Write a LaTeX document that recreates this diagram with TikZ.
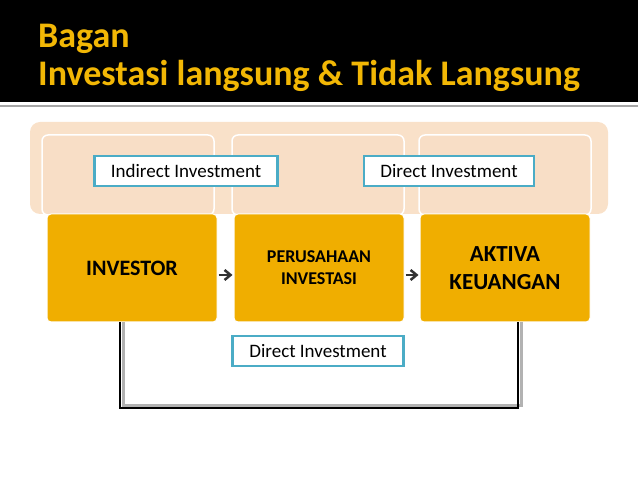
\documentclass[tikz,border=0pt]{standalone}
\usepackage{fontspec}
\setmainfont{Carlito}
\usetikzlibrary{arrows.meta}
\definecolor{ttl}{HTML}{F2B705}
\definecolor{peach}{HTML}{F9E1C9}
\definecolor{lpeach}{HTML}{F8DEC6}
\definecolor{orng}{HTML}{F0AE00}
\definecolor{teal}{HTML}{4BACC6}
\tikzset{
 orangebox/.style={draw=white,line width=1pt,fill=orng,rounded corners=4pt,minimum width=170pt,minimum height=108pt,align=center},
 topbox/.style={draw=white,line width=1.5pt,fill=lpeach,rounded corners=6pt,minimum width=172pt,minimum height=80pt},
 lbl/.style={draw=teal,line width=2.5pt,fill=white,inner sep=3pt,minimum height=30pt,font=\fontsize{19}{22}\selectfont},
 link/.style={line width=2.5pt,draw=black},
 chev/.style={line width=2.5pt,-{Straight Barb[length=6pt,width=10pt]},black!80},
}
\begin{document}
\begin{tikzpicture}[x=1pt,y=-1pt]
\useasboundingbox (0,0) rectangle (638,478);
\fill[black] (0,0) rectangle (638,102);
\draw[gray!70,line width=1.5pt] (0,106) -- (638,106);
\node[anchor=base west,text=ttl,font=\bfseries\fontsize{36}{40}\selectfont,inner sep=0] (t1) at (38,48) {Bagan};
\node[anchor=base west,text=ttl,font=\bfseries\fontsize{36}{40}\selectfont,inner sep=0] (t2) at (38,86) {Investasi langsung \& Tidak Langsung};
\fill[peach,rounded corners=10pt] (30,122) rectangle (608,214);
\node[topbox] (u1) at (128,175) {};
\node[topbox] (u2) at (318,175) {};
\node[topbox] (u3) at (505,175) {};
\node[orangebox,font=\bfseries\fontsize{22}{26}\selectfont] (a) at (132,268) {INVESTOR};
\node[orangebox,font=\bfseries\fontsize{18}{22}\selectfont] (b) at (319,268) {PERUSAHAAN\\INVESTASI};
\node[orangebox,font=\bfseries\fontsize{23}{28}\selectfont] (c) at (505,268) {AKTIVA\\KEUANGAN};
\draw[chev] ([shift={(1pt,-7pt)}]a.east) -- ([shift={(-1pt,-7pt)}]b.west);
\draw[chev] ([shift={(1pt,-7pt)}]b.east) -- ([shift={(-1pt,-7pt)}]c.west);
\node[lbl,minimum width=183pt] (l1) at (186,171) {Indirect Investment};
\node[lbl,minimum width=170pt] (l2) at (449,171) {Direct Investment};
\coordinate (q1) at (120,322);
\coordinate (q2) at (518,322);
\coordinate (p2) at (518,408);
\draw[gray!60,line width=3pt] ([xshift=3pt]q1) |- ([shift={(3pt,2pt)}]p2) -- ([xshift=3pt]q2);
\draw[link] (q1) |- (p2) -- (q2);
\node[lbl,minimum width=171pt] (l3) at (318,351) {Direct Investment};
\end{tikzpicture}
\end{document}
